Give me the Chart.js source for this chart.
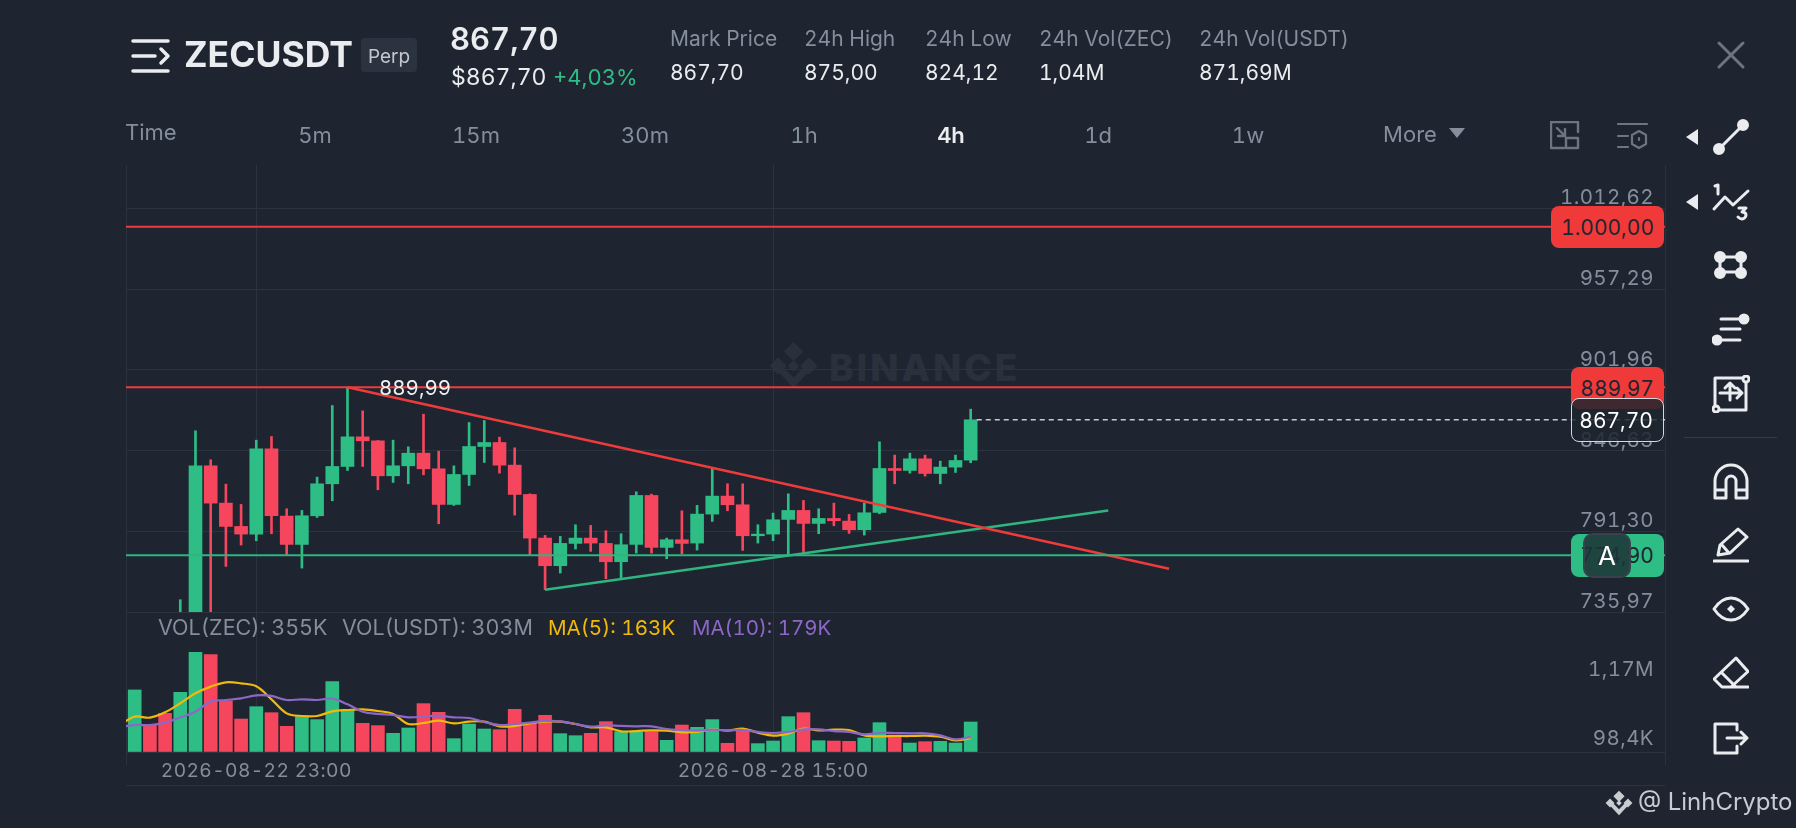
<!DOCTYPE html>
<html lang="en">
<head>
  <meta charset="UTF-8" />
  <title>ZECUSDT Perp 4h</title>
  <script src="https://cdn.jsdelivr.net/npm/chart.js"></script>
  <style>
    html, body { margin: 0; padding: 0; }
    body {
      width: 1796px; height: 828px; overflow: hidden; position: relative;
      background: #1e2530; color: #eaecef;
      font-family: Inter, 'Noto Sans', sans-serif;
      font-variant-numeric: tabular-nums;
    }
    .t { position: absolute; white-space: nowrap; line-height: 1; transform: translateY(-50%); }
    .c { transform: translate(-50%, -50%); }
    .grey { color: #848e9c; }
    .line { position: absolute; background: #2c3340; }
    .pill { position: absolute; border-radius: 8px; box-sizing: border-box; text-align: right;
      padding-right: 10px; font-size: 21px; color: #1e2530; display: flex; align-items: center; justify-content: flex-end; }
    svg.icon { position: absolute; fill: none; stroke: #eaecef; stroke-width: 3; stroke-linecap: round; stroke-linejoin: round; }
    svg.dim { stroke: #6d7582; }
    #chart { position: absolute; left: 0; top: 0; z-index: 2; }
    #top { position: absolute; left: 0; top: 0; width: 1796px; height: 828px; z-index: 3; }
  </style>
</head>
<body>
  <!-- behind the candles -->
  <svg class="icon" style="left:769px;top:342px;stroke:none;fill:#2a313c" width="49" height="48" viewBox="0 0 50 50">
    <path d="M25 0l10 10-10 10-10-10zM9 16l9 9-9 9-9-9zM41 16l9 9-9 9-9-9zM25 19l6 6-6 6-6-6zM25 37l10-10 5 5-15 16-15-16 5-5z"/>
  </svg>
  <div class="t" style="left:829px;top:367px;font-size:37px;font-weight:800;letter-spacing:3px;color:#2a313c">BINANCE</div>
  <div class="line" style="left:126px;top:165px;width:1px;height:600px"></div>
  <div class="line" style="left:1665px;top:165px;width:1px;height:600px"></div>
  <div class="line" style="left:126px;top:785px;width:1539px;height:1px"></div>

  <canvas id="chart" width="1796" height="828"></canvas>

  <div id="top">
    <svg class="icon" style="left:131px;top:38px" width="40" height="36" viewBox="0 0 40 36">
      <path d="M2 3h35M2 18h22M2 33h35M30 11l7 7-7 7" stroke-width="3.5"/>
    </svg>
    <div class="t" style="left:184px;top:55px;font-size:35.5px;font-weight:700">ZECUSDT</div>
    <div style="position:absolute;left:361px;top:38px;width:56px;height:34px;background:#2b3240;border-radius:4px"></div>
    <div class="t c" style="left:389px;top:56px;font-size:19px;color:#c4c8ce">Perp</div>
    <div class="t" style="left:450px;top:38px;font-size:31px;font-weight:600">867,70</div>
    <div class="t" style="left:451px;top:77px;font-size:23px">$867,70</div>
    <div class="t" style="left:553px;top:77px;font-size:22px;color:#2ebd85">+4,03%</div>

    <div class="t grey" style="left:670px;top:38px;font-size:21px">Mark Price</div>
    <div class="t" style="left:670px;top:72px;font-size:21px">867,70</div>
    <div class="t grey" style="left:804px;top:38px;font-size:21px">24h High</div>
    <div class="t" style="left:804px;top:72px;font-size:21px">875,00</div>
    <div class="t grey" style="left:925px;top:38px;font-size:21px">24h Low</div>
    <div class="t" style="left:925px;top:72px;font-size:21px">824,12</div>
    <div class="t grey" style="left:1039px;top:38px;font-size:21px">24h Vol(ZEC)</div>
    <div class="t" style="left:1039px;top:72px;font-size:21px">1,04M</div>
    <div class="t grey" style="left:1199px;top:38px;font-size:21px">24h Vol(USDT)</div>
    <div class="t" style="left:1199px;top:72px;font-size:21px">871,69M</div>
    <svg class="icon dim" style="left:1716px;top:40px" width="30" height="30" viewBox="0 0 30 30"><path d="M3 3l24 24M27 3L3 27"/></svg>

    <div class="t grey" style="left:125px;top:132px;font-size:22px">Time</div>
    <div class="t c grey" style="left:315px;top:135px;font-size:22px">5m</div>
    <div class="t c grey" style="left:476px;top:135px;font-size:22px">15m</div>
    <div class="t c grey" style="left:645px;top:135px;font-size:22px">30m</div>
    <div class="t c grey" style="left:804px;top:135px;font-size:22px">1h</div>
    <div class="t c" style="left:951px;top:135px;font-size:22px;font-weight:600">4h</div>
    <div class="t c grey" style="left:1098px;top:135px;font-size:22px">1d</div>
    <div class="t c grey" style="left:1248px;top:135px;font-size:22px">1w</div>
    <div class="t c grey" style="left:1410px;top:134px;font-size:22px">More</div>
    <svg class="icon" style="left:1449px;top:128px;stroke:none;fill:#848e9c" width="16" height="10" viewBox="0 0 16 10"><path d="M0 0h16L8 10z"/></svg>
    <svg class="icon dim" style="left:1550px;top:121px" width="30" height="29" viewBox="0 0 30 29"><path d="M14 27H1V1h27v10M16 17h12v10H16zM7 7l8 8M15 8v7H8" stroke-width="2.4"/></svg>
    <svg class="icon dim" style="left:1616px;top:122px" width="32" height="29" viewBox="0 0 32 29"><path d="M2 2h29M2 14h10M2 25h10M23 9l7 4v9l-7 4-7-4v-9zM23 16v2" stroke-width="2.2"/></svg>

    <div style="position:absolute;left:1684px;top:437px;width:93px;height:1px;background:#343c49"></div>
    <svg class="icon" style="left:1686px;top:129px;stroke:none;fill:#eaecef" width="12" height="16" viewBox="0 0 12 16"><path d="M12 0v16L0 8z"/></svg>
    <svg class="icon" style="left:1686px;top:194px;stroke:none;fill:#eaecef" width="12" height="16" viewBox="0 0 12 16"><path d="M12 0v16L0 8z"/></svg>
    <svg class="icon" style="left:1712px;top:118px" width="38" height="38" viewBox="0 0 38 38">
      <path d="M8 30L30 8"/><circle cx="7" cy="31" r="4.5" fill="#eaecef"/><circle cx="31" cy="7" r="4.5" fill="#eaecef"/>
    </svg>
    <svg class="icon" style="left:1711px;top:183px" width="40" height="38" viewBox="0 0 40 38">
      <path d="M3 26l11-12 8 8L37 8M4 3l3-1v9"/><path d="M28 25h7l-4 4c3 0 4 1 4 3s-2 4-4 4-3-1-4-2"/>
    </svg>
    <svg class="icon" style="left:1713px;top:250px" width="36" height="30" viewBox="0 0 36 30">
      <path d="M7 7h21v15H7z"/><circle cx="7" cy="7" r="4.5" fill="#eaecef"/><circle cx="28" cy="7" r="4.5" fill="#eaecef"/><circle cx="7" cy="23" r="4.5" fill="#eaecef"/><circle cx="28" cy="23" r="4.5" fill="#eaecef"/>
    </svg>
    <svg class="icon" style="left:1712px;top:313px" width="38" height="34" viewBox="0 0 38 34">
      <path d="M9 6h20M9 16h19M5 27h23"/><circle cx="32" cy="6" r="4" fill="#eaecef"/><circle cx="5" cy="27" r="4" fill="#eaecef"/>
    </svg>
    <svg class="icon" style="left:1712px;top:375px" width="38" height="38" viewBox="0 0 38 38">
      <path d="M3 3h31v32H3zM18 8v17M8 18h22M13 13l5-5 5 5M25 13l5 5-5 5"/><circle cx="34" cy="4" r="3" fill="#1e2530"/><circle cx="4" cy="34" r="3" fill="#1e2530"/>
    </svg>
    <svg class="icon" style="left:1713px;top:463px" width="36" height="38" viewBox="0 0 36 38">
      <path d="M2 35V18a16 16 0 0 1 32 0v17H23V18a5 5 0 0 0-10 0v17zM2 27h11M23 27h11"/>
    </svg>
    <svg class="icon" style="left:1713px;top:527px" width="36" height="36" viewBox="0 0 36 36">
      <path d="M1 34h34M5 28l2-10L25 2l9 8-17 16zM9 18l7 8"/>
    </svg>
    <svg class="icon" style="left:1712px;top:596px" width="38" height="26" viewBox="0 0 38 26">
      <path d="M2 13C8 4 14 2 19 2s11 2 17 11c-6 9-12 11-17 11S8 22 2 13z"/><path d="M19 9l4 4-4 4-4-4z" fill="#eaecef" stroke="none"/>
    </svg>
    <svg class="icon" style="left:1713px;top:656px" width="36" height="34" viewBox="0 0 36 34">
      <path d="M23 2L35 15.5 18 31H9L1 23zM9 17l14 14M18 31h17"/>
    </svg>
    <svg class="icon" style="left:1713px;top:722px" width="36" height="34" viewBox="0 0 36 34">
      <path d="M24 8V2H2v29h22v-7M14 16h20M28 10l6 6-6 6"/>
    </svg>

    <div class="pill" style="left:1551px;top:206px;width:113px;height:42px;background:#f03a3a">1.000,00</div>
    <div class="pill" style="left:1571px;top:367px;width:93px;height:42px;background:#f03a3a">889,97</div>
    <div class="pill" style="left:1571px;top:534px;width:93px;height:43px;background:#2ebd85">774,90</div>
    <div class="pill" style="left:1571px;top:398px;width:93px;height:44px;background:rgba(30,37,48,.84);border:1px solid #d5d8dd;color:#fff">867,70</div>
    <div class="pill" style="left:1583px;top:533px;width:48px;height:45px;padding:0;justify-content:center;background:rgba(30,52,56,.88);border:2px solid #39414d;color:#fff;font-size:26px;border-radius:10px">A</div>

    <div class="t" style="left:379px;top:388px;font-size:20.5px;color:#f0f1f3">889,99</div>

    <div class="t grey" style="left:158px;top:628px;font-size:21.5px">VOL(ZEC): 355K</div>
    <div class="t grey" style="left:342px;top:628px;font-size:21.5px">VOL(USDT): 303M</div>
    <div class="t" style="left:548px;top:628px;font-size:20.6px;color:#f0b90b">MA(5): 163K</div>
    <div class="t" style="left:692px;top:628px;font-size:20.4px;color:#8d67c6">MA(10): 179K</div>

    <svg class="icon" style="left:1605px;top:789px;stroke:none;fill:#c8ccd2" width="28" height="28" viewBox="0 0 50 50">
      <path d="M25 3l10 10-10 10-10-10zM9 17l8 8-8 8-8-8zM41 17l8 8-8 8-8-8zM25 20l5 5-5 5-5-5zM25 36l10-10 5 5-15 16-15-16 5-5z"/>
    </svg>
    <div class="t" style="left:1638px;top:802px;font-size:24px;color:#c8ccd2">@ LinhCrypto</div>
  </div>

  <script>
    // 4h candles, first ones sit below the visible range
    const candleOpen = [698, 702, 700, 690, 690, 836.15, 810.59, 794.61, 789.36, 847.79, 801.69, 782.28, 801.91, 823.83, 835.70, 856.01, 853.27, 829.31, 836.15, 844.83, 834.10, 809.68, 830.22, 849.39, 852.13, 836.61, 816.52, 786.63, 767.68, 782.97, 786.63, 782.97, 770.42, 782.29, 815.84, 780.24, 785.49, 783.20, 803.06, 815.39, 809.45, 788.22, 789.37, 799.41, 805.57, 796.67, 800.09, 798.27, 792.33, 804.20, 834.33, 832.96, 840.95, 830.91, 835.25, 840.04];
    const candleHigh = [705, 708, 706, 744.40, 860.12, 840.26, 823.60, 809.68, 853.73, 856.24, 806.71, 805.57, 828.39, 877.47, 889.99, 873.82, 853.50, 853.73, 849.16, 871.53, 846.20, 836.15, 865.83, 867.20, 855.78, 848.48, 816.98, 788.45, 787.77, 795.76, 795.30, 791.65, 789.59, 818.35, 816.76, 786.63, 805.34, 809.00, 834.33, 823.83, 823.83, 795.76, 803.75, 816.99, 812.42, 806.71, 810.59, 802.83, 810.59, 852.59, 843.46, 844.83, 843.46, 839.35, 843.46, 874.96];
    const candleLow = [690, 695, 692, 680, 680, 725, 767.22, 781.83, 784.79, 789.59, 775.21, 766.08, 800.77, 812.19, 832.96, 835.70, 819.72, 824.74, 823.83, 829.99, 796.44, 808.99, 822.69, 838.44, 831.13, 802.37, 774.75, 751.25, 762.66, 779.09, 777.50, 758.78, 758.55, 776.35, 776.35, 772.47, 775.90, 778.41, 798.04, 805.34, 778.18, 783.20, 784.80, 774.76, 776.35, 789.59, 795.07, 789.82, 788.68, 803.29, 823.83, 831.14, 829.08, 823.83, 831.59, 838.21];
    const candleClose = [702, 700, 690, 730, 836.15, 810.59, 794.61, 789.36, 847.79, 801.91, 782.28, 801.91, 823.83, 835.70, 856.01, 853.27, 829.31, 836.15, 844.83, 834.10, 809.68, 830.22, 849.39, 852.13, 836.61, 816.52, 786.62, 767.68, 782.97, 786.63, 783.20, 770.42, 782.06, 815.84, 780.24, 785.49, 782.97, 803.06, 815.39, 809.45, 788.22, 789.37, 799.18, 805.57, 796.67, 800.09, 798.50, 792.33, 803.97, 834.33, 832.96, 840.95, 830.91, 835.25, 839.81, 867.70];
    const volumes = [734, 319, 457, 706, 1179, 1152, 607, 390, 536, 465, 304, 430, 383, 832, 497, 339, 312, 221, 284, 572, 469, 158, 331, 272, 264, 505, 339, 434, 217, 193, 221, 359, 241, 233, 241, 138, 319, 292, 383, 103, 268, 99, 130, 418, 465, 134, 130, 126, 166, 347, 201, 106, 122, 126, 106, 355];
    // moving averages as drawn, in thousands (first value is the candle left of the frame)
    const ma5Line = [316, 418, 406, 469, 576, 694, 773, 824, 812, 777, 623, 457, 426, 426, 481, 497, 505, 485, 450, 331, 343, 371, 339, 359, 359, 304, 308, 339, 359, 359, 331, 292, 292, 245, 248, 256, 252, 233, 237, 268, 252, 276, 229, 193, 217, 276, 256, 264, 260, 197, 185, 189, 189, 193, 181, 138, 163];
    const ma10Line = [296, 319, 319, 347, 410, 477, 596, 615, 635, 670, 663, 615, 623, 615, 631, 564, 477, 450, 438, 410, 418, 430, 410, 402, 355, 319, 331, 347, 367, 363, 331, 300, 316, 308, 304, 304, 272, 260, 252, 264, 256, 260, 237, 225, 237, 268, 268, 248, 237, 209, 225, 225, 221, 221, 197, 150, 179];

    const priceTicks = [735.97, 791.30, 846.63, 901.96, 957.29, 1012.62];
    const priceTickLabels = ['735,97', '791,30', '846,63', '901,96', '957,29', '1.012,62'];
    const volTicks = [0, 816];
    const volTickLabels = ['98,4K', '1,17M'];
    const timeTicks = [8, 42];
    const timeTickLabels = ['2026-08-22 23:00', '2026-08-28 15:00'];

    const resistanceLevels = [1000, 889.97];
    const supportLevel = 774.90;
    const lastPrice = 867.70;
    const fallingTrend = [[14, 889.99], [68.05, 765.6]];
    const risingTrend = [[27, 751.25], [64.05, 805.5]];

    const UP = '#2ebd85', DOWN = '#f6465d', GRID = '#2c3340', RED_LINE = '#ee3b3b', GREEN_LINE = '#2fb57f';
    const colors = candleOpen.map((o, i) => candleClose[i] >= o ? UP : DOWN);
    const XMIN = -0.572, XMAX = 100.68;

    function level(value, color, extra) {
      return Object.assign({
        type: 'line', yAxisID: 'y',
        data: [{ x: XMIN - 1, y: value }, { x: XMAX + 1, y: value }],
        borderColor: color, borderWidth: 2, pointRadius: 0, order: 0
      }, extra);
    }
    function trend(points, color) {
      return {
        type: 'line', yAxisID: 'y',
        data: points.map(p => ({ x: p[0], y: p[1] })),
        borderColor: color, borderWidth: 2.4, pointRadius: 0, order: 0
      };
    }
    function maLine(values, color, order) {
      return {
        type: 'line', yAxisID: 'yVol',
        data: values.map((v, i) => ({ x: i - 1, y: v })),
        borderColor: color, borderWidth: 2.2, pointRadius: 0, tension: 0.35, order: order
      };
    }

    Chart.defaults.font.family = 'Inter, "Noto Sans", sans-serif';

    // axis digits in the screenshot are set wider than Inter draws them on canvas
    const wideLabels = {
      id: 'wideLabels',
      beforeDraw(chart) { chart.ctx.letterSpacing = '0.4px'; }
    };

    new Chart(document.getElementById('chart').getContext('2d'), {
      type: 'bar',
      plugins: [wideLabels],
      data: {
        datasets: [
          ...resistanceLevels.map(v => level(v, RED_LINE)),
          level(supportLevel, GREEN_LINE),
          { type: 'line', yAxisID: 'y', data: [{ x: 55.4, y: lastPrice }, { x: XMAX + 1, y: lastPrice }],
            borderColor: '#c8ccd2', borderWidth: 1.5, borderDash: [5, 4], pointRadius: 0, order: 0 },
          trend(fallingTrend, RED_LINE),
          trend(risingTrend, GREEN_LINE),
          maLine(ma5Line, '#f0b90b', 2),
          maLine(ma10Line, '#8d67c6', 1),
          { yAxisID: 'y', grouped: false, barThickness: 13, backgroundColor: colors, order: 3,
            data: candleOpen.map((o, i) => ({ x: i, y: [o, candleClose[i]] })) },
          { yAxisID: 'y', grouped: false, barThickness: 2, backgroundColor: colors, order: 4,
            data: candleOpen.map((o, i) => ({ x: i, y: [candleLow[i], candleHigh[i]] })) },
          { yAxisID: 'yVol', grouped: false, barThickness: 13, backgroundColor: colors, order: 4,
            data: volumes.map((v, i) => ({ x: i, y: v })) }
        ]
      },
      options: {
        responsive: false,
        animation: false,
        events: [],
        layout: { padding: { left: 126, right: 131, top: 165, bottom: 0 } },
        plugins: { legend: { display: false }, tooltip: { enabled: false } },
        scales: {
          x: {
            type: 'linear', min: XMIN, max: XMAX, offset: false,
            afterBuildTicks: s => { s.ticks = timeTicks.map(v => ({ value: v })); },
            afterFit: s => { s.height = 76; },
            grid: { color: GRID, drawTicks: false, offset: false },
            border: { display: false },
            ticks: {
              autoSkip: false, maxRotation: 0, color: '#848e9c', padding: 8, font: { size: 19.2 },
              callback: (v, i) => timeTickLabels[i]
            }
          },
          y: {
            type: 'linear', position: 'right', stack: 'panes', stackWeight: 447,
            min: 735.97, max: 1042.3,
            afterBuildTicks: s => { s.ticks = priceTicks.map(v => ({ value: v })); },
            afterFit: s => { s.width = 0; },
            grid: { color: GRID, drawTicks: false },
            border: { display: false },
            ticks: {
              mirror: true, autoSkip: false, color: '#848e9c', padding: -11, labelOffset: -10, font: { size: 20.5 },
              callback: (v, i) => priceTickLabels[i]
            }
          },
          yVol: {
            type: 'linear', position: 'right', stack: 'panes', stackWeight: 140,
            min: 0, max: 1656,
            afterBuildTicks: s => { s.ticks = volTicks.map(v => ({ value: v })); },
            afterFit: s => { s.width = 0; },
            grid: { color: c => c.index === 0 ? GRID : 'transparent', drawTicks: false },
            border: { display: false },
            ticks: {
              mirror: true, autoSkip: false, color: '#848e9c', padding: -11, labelOffset: -13, font: { size: 20.5 },
              callback: (v, i) => volTickLabels[i]
            }
          }
        }
      }
    });
  </script>
</body>
</html>
